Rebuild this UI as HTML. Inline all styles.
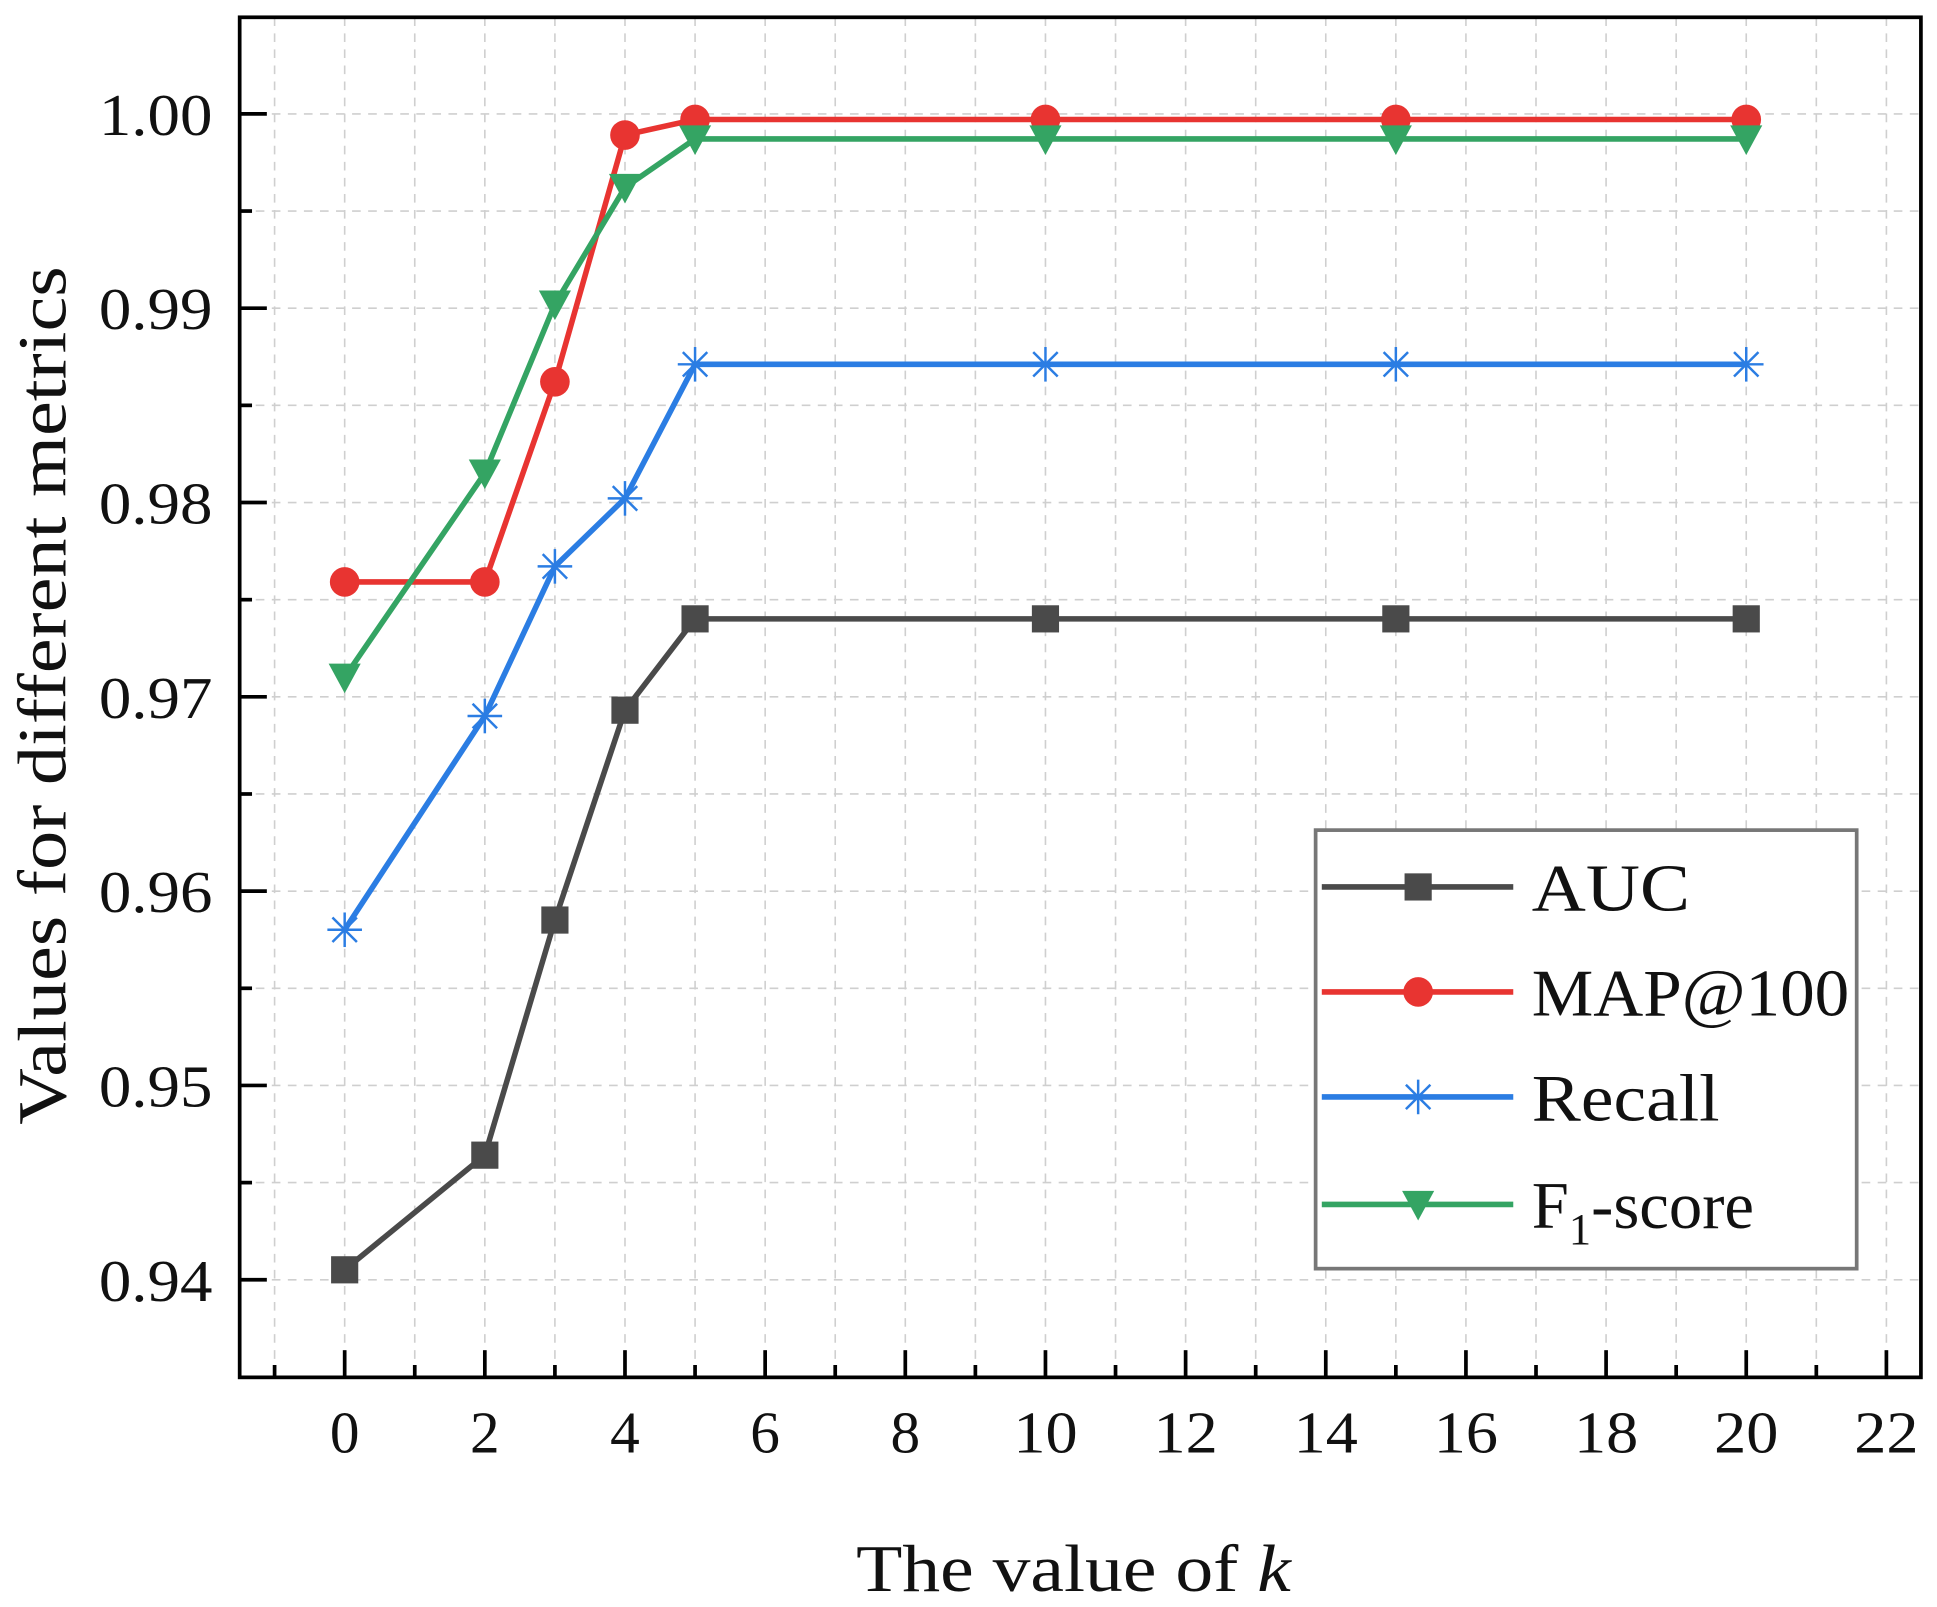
<!DOCTYPE html>
<html><head><meta charset="utf-8"><style>
html,body{margin:0;padding:0;background:#fff;}
svg{display:block;}
text{font-family:"Liberation Serif",serif;fill:#111;}
</style></head><body>
<svg id="s" width="1937" height="1607" viewBox="0 0 1568 1300.9" xmlns="http://www.w3.org/2000/svg"></svg>
<script>
const s=document.getElementById('s');
const X=k=>279+56.73*k, Y=v=>92+(1-v)*15730;
let h='';
for(let k=-1;k<=22;k++){const x=X(k);h+=`<line x1="${x}" y1="14" x2="${x}" y2="1115" stroke="#cfcfcf" stroke-width="1.3" stroke-dasharray="7,6"/>`;}
for(let n=0;n<=13;n++){const y=1036-n*78.65;if(y<16)continue;h+=`<line x1="194" y1="${y}" x2="1555" y2="${y}" stroke="#cfcfcf" stroke-width="1.3" stroke-dasharray="7,6"/>`;}
h+=`<rect x="194" y="14" width="1361" height="1101" fill="none" stroke="#000" stroke-width="3"/>`;
for(let k=-1;k<=22;k++){const x=X(k);const L=k%2==0?22:10;h+=`<line x1="${x}" y1="1115" x2="${x}" y2="${1115-L}" stroke="#000" stroke-width="3"/>`;
 if(k>=0&&k%2==0){const w=k>=10?52:24;h+=`<text x="${x}" y="1176" font-size="48" text-anchor="middle" textLength="${w}" lengthAdjust="spacingAndGlyphs">${k}</text>`;}}
for(let n=-1;n<=13;n++){const y=1036-n*78.65;if(y<16||y>1114)continue;const L=n%2==0?22:10;h+=`<line x1="194" y1="${y}" x2="${194+L}" y2="${y}" stroke="#000" stroke-width="3"/>`;
 if(n%2==0)h+=`<text x="172" y="${y+17}" font-size="48" text-anchor="end" textLength="92" lengthAdjust="spacingAndGlyphs">${(0.94+n*0.005).toFixed(2)}</text>`;}
const ks=[0,2,3,4,5,10,15,20];
const S=[
 {c:'#4a4a4a',m:'sq',d:[.9405,.9464,.9585,.9693,.974,.974,.974,.974]},
 {c:'#e83431',m:'ci',d:[.9759,.9759,.9862,.9989,.9997,.9997,.9997,.9997]},
 {c:'#2b7de3',m:'st',d:[.958,.969,.9767,.9802,.9871,.9871,.9871,.9871]},
 {c:'#34a463',m:'tr',d:[.971,.9815,.9902,.9962,.9987,.9987,.9987,.9987]}];
function mk(m,x,y,c){
 if(m=='sq')return `<rect x="${x-11}" y="${y-11}" width="22" height="22" fill="${c}"/>`;
 if(m=='ci')return `<circle cx="${x}" cy="${y}" r="12" fill="${c}"/>`;
 if(m=='tr')return `<polygon points="${x-13},${y-11} ${x+13},${y-11} ${x},${y+13}" fill="${c}"/>`;
 let r=14,o='';for(let a=0;a<4;a++){const t=a*Math.PI/4;o+=`<line x1="${x-r*Math.cos(t)}" y1="${y-r*Math.sin(t)}" x2="${x+r*Math.cos(t)}" y2="${y+r*Math.sin(t)}" stroke="${c}" stroke-width="2"/>`;}return o;}
for(const se of S){h+=`<polyline fill="none" stroke="${se.c}" stroke-width="4.5" points="${ks.map((k,i)=>X(k)+','+Y(se.d[i])).join(' ')}"/>`;
 ks.forEach((k,i)=>h+=mk(se.m,X(k),Y(se.d[i]),se.c));}
h+=`<rect x="1065" y="672" width="438" height="355" fill="#fff" stroke="#777" stroke-width="3"/>`;
const names=['AUC','MAP@100','Recall',''];const lw=[128,257,152,0];const ly=[718,803,888,975];
S.forEach((se,i)=>{h+=`<line x1="1070" y1="${ly[i]}" x2="1225" y2="${ly[i]}" stroke="${se.c}" stroke-width="4.5"/>`+mk(se.m,1148,ly[i],se.c);
 if(names[i])h+=`<text x="1240" y="${ly[i]+19}" font-size="54" textLength="${lw[i]}" lengthAdjust="spacingAndGlyphs">${names[i]}</text>`;});
h+=`<text x="1240" y="${ly[3]+19}" font-size="54">F<tspan font-size="36" dy="13">1</tspan><tspan dy="-13">-score</tspan></text>`;
h+=`<text x="693" y="1288" font-size="54" textLength="352" lengthAdjust="spacingAndGlyphs">The value of <tspan font-style="italic">k</tspan></text>`;
h+=`<text transform="translate(53,563) rotate(-90)" font-size="56" text-anchor="middle" textLength="695" lengthAdjust="spacingAndGlyphs">Values for different metrics</text>`;
s.innerHTML=h;
</script>
</body></html>
